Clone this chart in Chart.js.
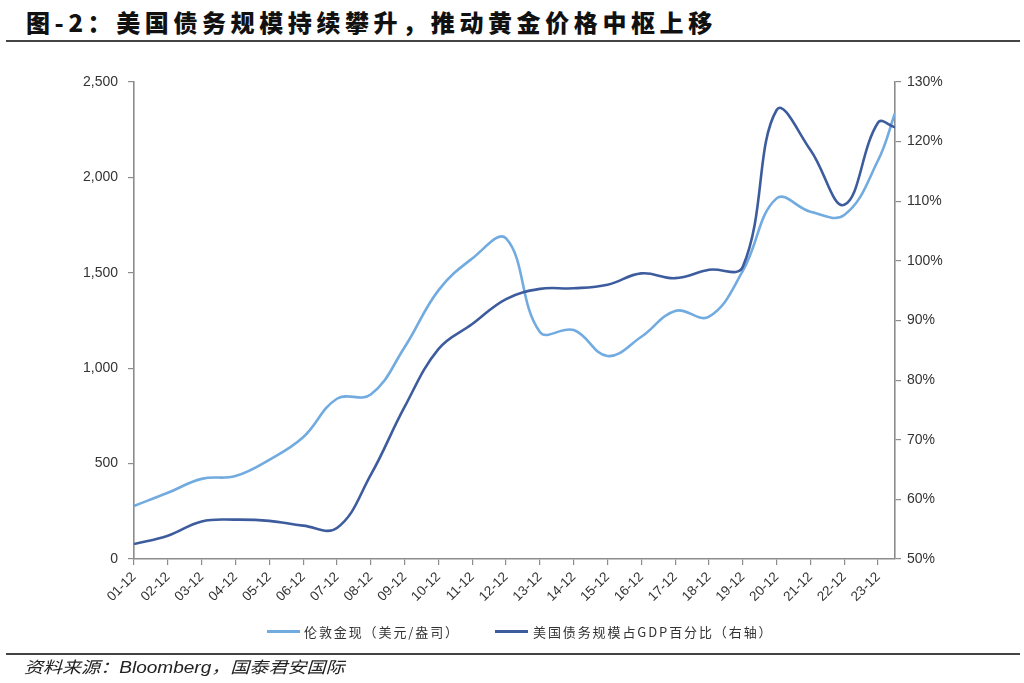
<!DOCTYPE html>
<html>
<head>
<meta charset="utf-8">
<script src="https://cdn.jsdelivr.net/npm/chart.js@4"></script>
<style>
  html, body { margin: 0; padding: 0; background: #fff; }
  #wrap { position: relative; width: 1024px; height: 683px; overflow: hidden; background: #fff; }
  #title { position: absolute; left: 26px; top: 10px; font-family: "Noto Sans CJK SC", sans-serif; font-weight: 900; font-size: 24px; line-height: 24px; color: #111; white-space: nowrap; letter-spacing: 4.6px; }
  .rule { position: absolute; left: 6px; width: 1014px; height: 2px; background: #444; }
  #chartBox { position: absolute; left: 0; top: 0; width: 1024px; height: 683px; }
  #legend { position: absolute; top: 622px; left: 0; width: 1024px; height: 20px; font-family: "Noto Sans CJK SC", sans-serif; font-size: 13px; color: #333; }
  .lg { position: absolute; top: 0; white-space: nowrap; line-height: 20px; letter-spacing: 1.9px; }
  .sw { position: absolute; top: 8px; width: 33px; height: 3px; }
  #source { position: absolute; left: 24px; top: 659px; font-family: "Liberation Sans", "Noto Sans CJK SC", sans-serif; font-style: italic; font-size: 16px; line-height: 17px; color: #222; white-space: nowrap; transform: scaleX(1.19); transform-origin: left top; }
</style>
</head>
<body>
<div id="wrap">
  <div id="title">图-2：美国债务规模持续攀升，推动黄金价格中枢上移</div>
  <div class="rule" style="top:40px;"></div>
  <div id="chartBox"><canvas id="c"></canvas></div>
  <div id="legend">
    <div class="sw" style="left:267px;background:#72abe0;"></div>
    <div class="lg" style="left:304px;">伦敦金现（美元/盎司）</div>
    <div class="sw" style="left:495px;background:#3d5c9e;"></div>
    <div class="lg" style="left:533px;">美国债务规模占GDP百分比（右轴）</div>
  </div>
  <div class="rule" style="top:653px;"></div>
  <div id="source">资料来源：Bloomberg，国泰君安国际</div>
</div>
<script>
// observation dates (YYYY-MM)
const dates = ['2001-12','2002-12','2003-12','2004-12','2005-12','2006-12','2007-12','2008-12','2009-12','2010-12','2011-12','2012-12','2013-12','2014-12','2015-12','2016-12','2017-12','2018-12','2019-12','2020-12','2021-12','2022-12','2023-12','2024-06'];
// x-axis tick labels (one per year, at December)
const tickLabels = ['01-12','02-12','03-12','04-12','05-12','06-12','07-12','08-12','09-12','10-12','11-12','12-12','13-12','14-12','15-12','16-12','17-12','18-12','19-12','20-12','21-12','22-12','23-12'];
// London spot gold (USD/oz), left axis
const goldPrice = [278, 347, 420, 435, 520, 638, 840, 862, 1110, 1408, 1575, 1680, 1190, 1200, 1064, 1165, 1300, 1270, 1510, 1890, 1820, 1803, 2090, 2336];
// US debt as % of GDP, right axis
const debtToGdp = [52.5, 53.9, 56.3, 56.6, 56.4, 55.6, 55.2, 64.1, 75.5, 85.2, 89.4, 93.6, 95.3, 95.4, 96.0, 97.9, 97.1, 98.5, 99.0, 125.3, 118.6, 109.4, 123.2, 122.4];
// axis tick settings
const leftTicks = { min: 0, max: 2500, step: 500 };
const rightTicks = { min: 50, max: 130, step: 10 };

const base = dates[0].split('-').map(Number);
function toYears(d) {
  const p = d.split('-').map(Number);
  return ((p[0] - base[0]) * 12 + (p[1] - base[1])) / 12;
}
const xs = dates.map(toYears);
const xMax = xs[xs.length - 1];

const axisColor = '#8c8c8c';
const tickFont = { family: '"Liberation Sans", Arial, sans-serif', size: 14 };

new Chart(document.getElementById('c'), {
  type: 'line',
  data: {
    datasets: [
      {
        label: '伦敦金现（美元/盎司）',
        data: xs.map((x, i) => ({ x: x, y: goldPrice[i] })),
        yAxisID: 'yL',
        borderColor: '#72abe0',
        borderWidth: 2.6,
        pointRadius: 0,
        tension: 0.4,
        fill: false,
        order: 1
      },
      {
        label: '美国债务规模占GDP百分比（右轴）',
        data: xs.map((x, i) => ({ x: x, y: debtToGdp[i] })),
        yAxisID: 'yR',
        borderColor: '#3d5c9e',
        borderWidth: 2.6,
        pointRadius: 0,
        tension: 0.4,
        fill: false,
        order: 0
      }
    ]
  },
  options: {
    responsive: true,
    maintainAspectRatio: false,
    animation: false,
    layout: { padding: { left: 0, right: 0, top: 82, bottom: 64 } },
    plugins: { legend: { display: false }, tooltip: { enabled: false }, title: { display: false } },
    scales: {
      x: {
        type: 'linear',
        min: 0,
        max: xMax,
        grid: { drawOnChartArea: false, drawTicks: true, tickLength: 6, color: axisColor, lineWidth: 1.2 },
        border: { color: axisColor, width: 1.6 },
        ticks: {
          stepSize: 1,
          includeBounds: false,
          autoSkip: false,
          minRotation: 45,
          maxRotation: 45,
          padding: 4,
          color: '#333',
          font: { family: '"Liberation Sans", Arial, sans-serif', size: 13.5 },
          callback: function (v) {
            return Number.isInteger(v) && tickLabels[v] !== undefined ? tickLabels[v] : '';
          }
        },
        afterFit: function (s) { s.height = 60; }
      },
      yL: {
        type: 'linear',
        position: 'left',
        min: leftTicks.min,
        max: leftTicks.max,
        grid: { drawOnChartArea: false, drawTicks: true, tickLength: 6, color: axisColor, lineWidth: 1.2 },
        border: { color: axisColor, width: 1.6 },
        ticks: { stepSize: leftTicks.step, padding: 10, color: '#333', font: tickFont },
        afterFit: function (s) { s.width = 134; }
      },
      yR: {
        type: 'linear',
        position: 'right',
        min: rightTicks.min,
        max: rightTicks.max,
        grid: { drawOnChartArea: false, drawTicks: true, tickLength: 6, color: axisColor, lineWidth: 1.2 },
        border: { color: axisColor, width: 1.6 },
        ticks: { stepSize: rightTicks.step, padding: 6, color: '#333', font: tickFont, callback: function (v) { return v + '%'; } },
        afterFit: function (s) { s.width = 129; }
      }
    }
  }
});
</script>
</body>
</html>
